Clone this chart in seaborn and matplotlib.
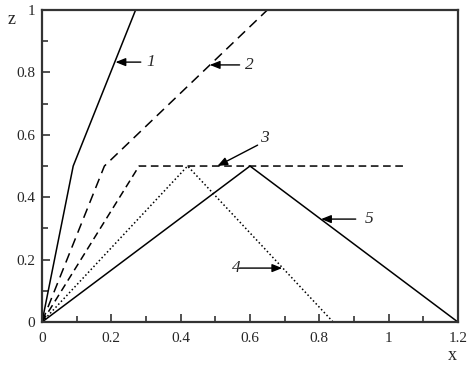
import matplotlib
matplotlib.use("Agg")
import matplotlib.pyplot as plt
import seaborn as sns
import pandas as pd
from matplotlib.ticker import MultipleLocator

# curve vertices
x1 = [0.0, 0.09, 0.27]
z1 = [0.0, 0.5, 1.0]
x2 = [0.0, 0.18, 0.65]
z2 = [0.0, 0.5, 1.0]
x3 = [0.0, 0.28, 1.05]
z3 = [0.0, 0.5, 0.5]
x4 = [0.0, 0.42, 0.84]
z4 = [0.0, 0.5, 0.0]
x5 = [0.0, 0.6, 1.2]
z5 = [0.0, 0.5, 0.0]

curve_ids = ["1", "2", "3", "4", "5"]
x_ticks = [0, 0.2, 0.4, 0.6, 0.8, 1.0, 1.2]
x_ticklabels = ["0", "0.2", "0.4", "0.6", "0.8", "1", "1.2"]
z_ticks = [0, 0.2, 0.4, 0.6, 0.8, 1.0]
z_ticklabels = ["0", "0.2", "0.4", "0.6", "0.8", "1"]

styles = {"1": "-", "2": (0, (6.5, 4)), "3": (0, (5, 3)), "4": (0, (1, 1.6)), "5": "-"}

# label text position, arrow tail, arrow head (data coords)
labels = {
    "1": ((0.30, 0.833), (0.285, 0.833), (0.212, 0.833)),
    "2": ((0.585, 0.824), (0.57, 0.824), (0.484, 0.824)),
    "3": ((0.63, 0.59), (0.622, 0.567), (0.506, 0.50)),
    "4": ((0.547, 0.173), (0.57, 0.173), (0.693, 0.173)),
    "5": ((0.93, 0.33), (0.905, 0.33), (0.805, 0.33)),
}

sns.set_style("ticks")
plt.rcParams["font.family"] = "serif"
plt.rcParams["font.serif"] = ["Liberation Serif", "DejaVu Serif"]

fig = plt.figure(figsize=(4.74, 3.66), dpi=100)
ax = fig.add_axes([0.0886, 0.120, 0.8776, 0.8527])

for cid, xs, zs in zip(curve_ids, [x1, x2, x3, x4, x5], [z1, z2, z3, z4, z5]):
    d = pd.DataFrame({"x": xs, "z": zs})
    sns.lineplot(data=d, x="x", y="z", sort=False, ax=ax, color="black",
                 linewidth=1.1, linestyle=styles[cid], estimator=None)

for cid, (txt, tail, head) in labels.items():
    ax.annotate("", xy=head, xytext=tail,
                arrowprops=dict(arrowstyle="-|>,head_length=0.5,head_width=0.2",
                                color="black", lw=1.0,
                                mutation_scale=12, shrinkA=0, shrinkB=0))
    ax.text(txt[0], txt[1], cid, fontsize=12.5, style="italic",
            ha="left", va="center")

ax.set_xlim(0, 1.2)
ax.set_ylim(0, 1)
ax.set_xticks(x_ticks)
ax.set_xticklabels(x_ticklabels)
ax.set_yticks(z_ticks)
ax.set_yticklabels(z_ticklabels)
ax.xaxis.set_minor_locator(MultipleLocator(0.1))
ax.yaxis.set_minor_locator(MultipleLocator(0.1))
ax.tick_params(which="both", direction="in", labelsize=11, top=False, right=False,
               color="#333333")
ax.tick_params(which="major", length=6, width=1.2)
ax.tick_params(axis="x", which="major", pad=7)
ax.tick_params(axis="y", which="major", pad=5)
ax.tick_params(which="minor", length=4, width=1.2)
for s in ax.spines.values():
    s.set_linewidth(1.6)
    s.set_color("#333333")
    s.set_visible(True)

ax.set_xlabel("")
ax.set_ylabel("")
fig.text(452 / 474, 1 - 355 / 366, "x", fontsize=13, ha="center", va="center")
fig.text(12 / 474, 1 - 20 / 366, "z", fontsize=13, ha="center", va="center")

fig.savefig("out.png", dpi=100)
